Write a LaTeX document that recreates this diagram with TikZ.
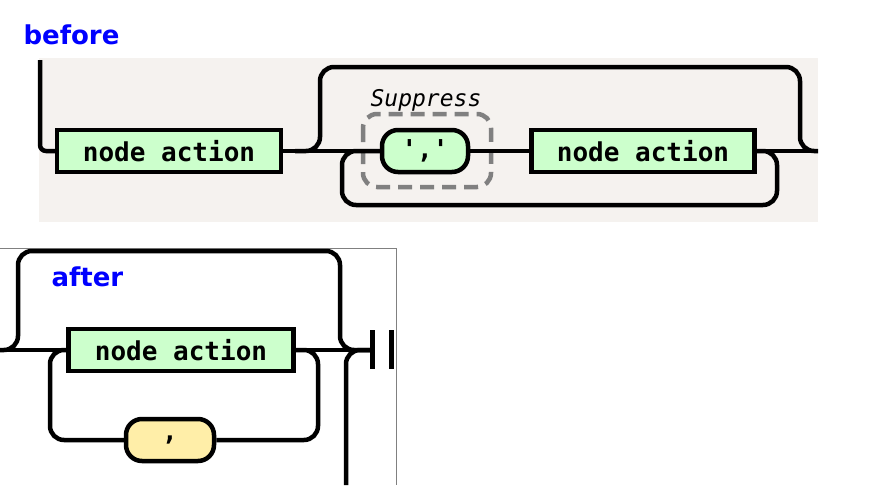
\documentclass[tikz,border=0pt]{standalone}
\usepackage{fontspec}
\setmainfont{DejaVu Sans}
\newfontfamily\monob{DejaVu Sans Mono}
\begin{document}
\begin{tikzpicture}[x=1pt,y=-1pt,
  rail/.style={line width=4.5pt,rounded corners=14pt},
  nt/.style={draw,line width=4.5pt,fill=ntfill,minimum height=42pt,font=\monob\bfseries\fontsize{26}{28}\selectfont,inner sep=0pt},
  term/.style={nt,rounded corners=16pt},
  lbl/.style={text=blue,font=\bfseries\fontsize{26}{28}\selectfont,anchor=base west}]
\definecolor{ntfill}{HTML}{CCFFCC}
\definecolor{tfill}{HTML}{FFEEA8}
\definecolor{bgc}{HTML}{F5F2EF}
\useasboundingbox (0,0) rectangle (873,485);
% before
\node[lbl] (lb) at (20,44) {before};
\fill[bgc] (39,58) rectangle (818,222);
\node[nt,minimum width=224pt] (a1) at (169,151) {node action};
\node[term,minimum width=86pt] (c1) at (425,151) {','};
\node[nt,minimum width=223pt] (a2) at (643,151) {node action};
\node[font=\monob\itshape\fontsize{23}{25}\selectfont] (sup) at (426,100) {Suppress};
\draw[gray,line width=4.5pt,dash pattern=on 14pt off 8pt,rounded corners=14pt] (363,114) rectangle (491,187);
\coordinate (s0) at (40,60);
\coordinate (e0) at (818,151);
\draw[rail,rounded corners=6pt] (s0) |- (a1.west);
\draw[rail] (a1.east) -- (c1.west);
\draw[rail] (c1.east) -- (a2.west);
\draw[rail] (a2.east) -- (e0);
\draw[rail] (295,151) -| (320,67) -| (800,151) -- (e0);
\draw[rail] (a2.east) -| (777,205) -| (342,151) -- (c1.west);
% after
\draw[gray,line width=1pt] (0,248) -- (396,248) -- (396,485);
\node[lbl] (la) at (48,286) {after};
\node[nt,minimum width=225pt] (b1) at (181,350) {node action};
\node[term,fill=tfill,minimum width=88pt] (c2) at (170,440) {,};
\coordinate (s1) at (0,350);
\coordinate (e1) at (372,350);
\draw[rail] (s1) -- (b1.west);
\draw[rail] (b1.east) -- (e1);
\draw[rail] (s1) -| (18,251) -| (340,350) -- (e1);
\draw[rail] (b1.west) -| (50,440) -- (c2.west);
\draw[rail] (c2.east) -| (318,350) -- (b1.east);
\draw[rail] (e1) -| (346,485);
\draw[line width=5pt] (372,330) -- (372,369) (391,330) -- (391,369);
\end{tikzpicture}
\end{document}
